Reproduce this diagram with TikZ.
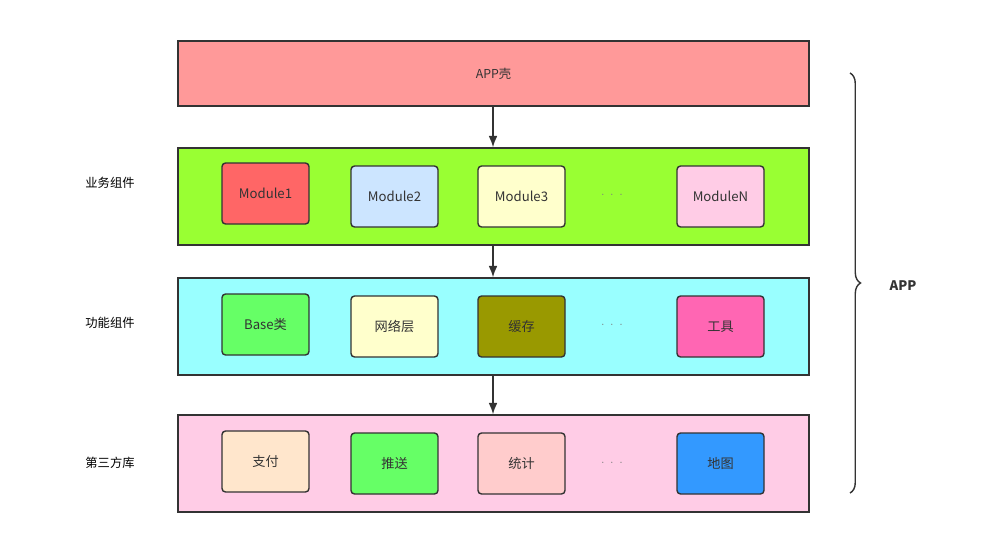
\documentclass[tikz,border=0pt]{standalone}
\usepackage{fontspec}
\setmainfont{Noto Sans CJK SC}
\usetikzlibrary{decorations.pathreplacing,arrows.meta}
\definecolor{shellred}{HTML}{FF9999}
\definecolor{bizgreen}{HTML}{99FF33}
\definecolor{funccyan}{HTML}{99FFFF}
\definecolor{libpink}{HTML}{FFCCE6}
\definecolor{linegray}{HTML}{333333}
\tikzset{
  layer/.style={draw=linegray, line width=0.8pt, minimum width=12.62cm, inner sep=0pt, font=\fontsize{7}{8}\selectfont, text=linegray},
  comp/.style={draw=linegray, line width=0.8pt, rounded corners=2pt, minimum width=1.74cm, minimum height=1.22cm, inner sep=0pt, font=\fontsize{7.5}{9}\selectfont, text=linegray},
  side/.style={font=\fontsize{7}{8}\selectfont, text=black},
  dots/.style={font=\fontsize{6}{7}\selectfont, text=gray}
}
\begin{document}
\begin{tikzpicture}[x=0.02cm,y=-0.02cm]
\useasboundingbox (0,0) rectangle (1000,539);
\node[layer, fill=shellred, minimum height=1.3cm] (shell) at (493.5,73.5) {APP壳};
\node[layer, fill=bizgreen, minimum height=1.94cm] (biz) at (493.5,196.5) {};
\node[layer, fill=funccyan, minimum height=1.94cm] (func) at (493.5,326.5) {};
\node[layer, fill=libpink, minimum height=1.94cm] (lib) at (493.5,463.5) {};

\node[side] (bizlabel) at (110,183) {业务组件};
\node[side] (funclabel) at (110,323) {功能组件};
\node[side] (liblabel) at (110,463) {第三方库};

\node[comp, fill={rgb,255:red,255;green,102;blue,102}] (module1) at (265.5,193.5) {Module1};
\node[comp, fill={rgb,255:red,204;green,229;blue,255}] (module2) at (394.5,196.5) {Module2};
\node[comp, fill={rgb,255:red,255;green,255;blue,204}] (module3) at (521.5,196.5) {Module3};
\node[dots] (bizdots) at (612,195) {$\cdot\,\cdot\,\cdot$};
\node[comp, fill={rgb,255:red,255;green,204;blue,230}] (moduleN) at (720.5,196.5) {ModuleN};

\node[comp, fill={rgb,255:red,102;green,255;blue,102}] (base) at (265.5,324.5) {Base类};
\node[comp, fill={rgb,255:red,255;green,255;blue,204}] (net) at (394.5,326.5) {网络层};
\node[comp, fill={rgb,255:red,153;green,153;blue,0}] (cache) at (521.5,326.5) {缓存};
\node[dots] (funcdots) at (612,325) {$\cdot\,\cdot\,\cdot$};
\node[comp, fill={rgb,255:red,255;green,102;blue,179}] (tools) at (720.5,326.5) {工具};

\node[comp, fill={rgb,255:red,255;green,230;blue,204}] (pay) at (265.5,461.5) {支付};
\node[comp, fill={rgb,255:red,102;green,255;blue,102}] (push) at (394.5,463.5) {推送};
\node[comp, fill={rgb,255:red,255;green,204;blue,204}] (stats) at (521.5,463.5) {统计};
\node[dots] (libdots) at (612,463) {$\cdot\,\cdot\,\cdot$};
\node[comp, fill={rgb,255:red,51;green,153;blue,255}] (map) at (720.5,463.5) {地图};

% arrows between layers
\path[draw,line width=0.8pt,draw=linegray,-{Latex[length=6.5pt,width=5pt]}] (shell.south -| 493,0) -- (biz.north -| 493,0);
\path[draw,line width=0.8pt,draw=linegray,-{Latex[length=6.5pt,width=5pt]}] (biz.south -| 493,0) -- (func.north -| 493,0);
\path[draw,line width=0.8pt,draw=linegray,-{Latex[length=6.5pt,width=5pt]}] (func.south -| 493,0) -- (lib.north -| 493,0);

% brace
\coordinate (bracetop) at (850,73);
\coordinate (bracebot) at (850,493);
\path[draw,line width=0.8pt,draw=linegray,decorate,decoration={brace,amplitude=6pt}] (bracetop) -- (bracebot);
\node[font=\fontsize{7.5}{9}\selectfont\bfseries, text=linegray] (app) at (903,286) {APP};
\end{tikzpicture}
\end{document}
